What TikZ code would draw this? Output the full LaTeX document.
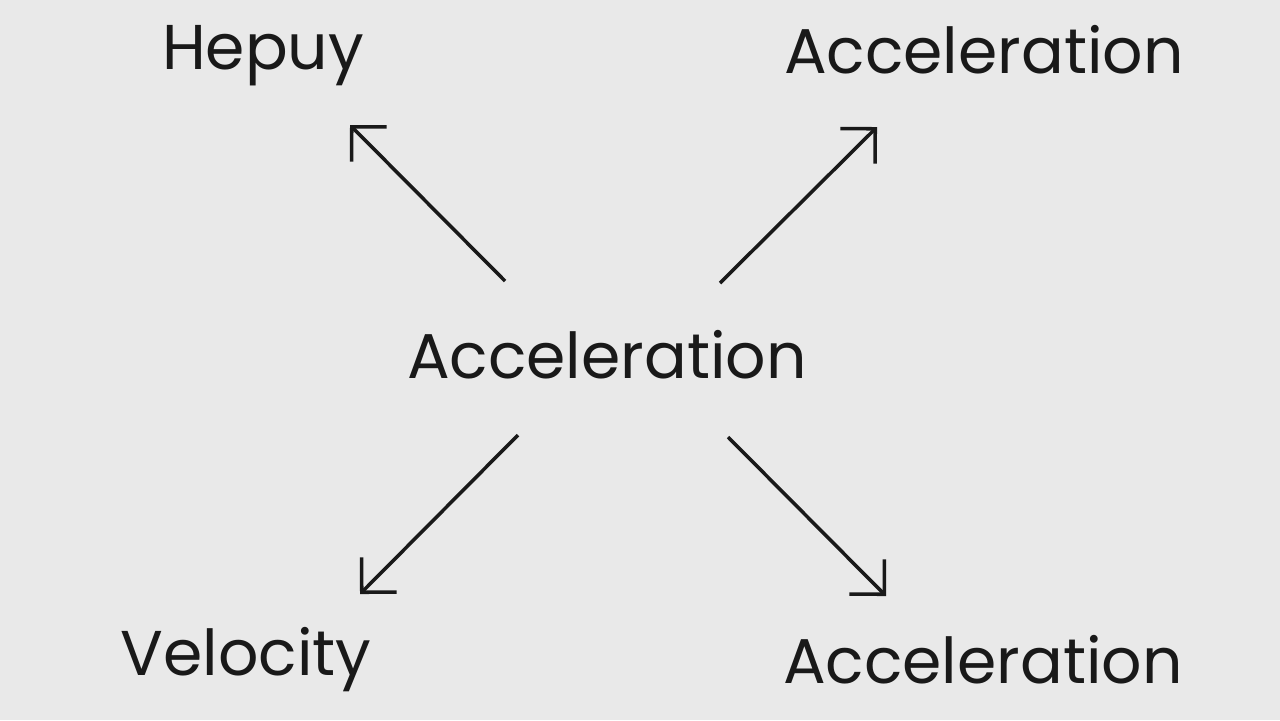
\documentclass[tikz,border=0pt]{standalone}
\usepackage{fontspec}
\setmainfont{Poppins}
\usetikzlibrary{arrows.meta}
\definecolor{bg}{HTML}{E9E9E9}
\begin{document}
\begin{tikzpicture}[x=0.01cm,y=-0.01cm,
  lbl/.style={font=\fontsize{18}{21}\selectfont, text=black!90, inner sep=0pt},
  arr/.style={draw=black!90, line width=1pt, -{Straight Barb[length=7pt,width=14pt,line width=1pt]}}]
\fill[bg] (0,0) rectangle (1280,720);
\useasboundingbox (0,0) rectangle (1280,720);
\node[lbl] (hep) at (263,56) {Hepuy};
\node[lbl] (tr) at (984,50) {Acceleration};
\node[lbl] (c) at (607,355) {Acceleration};
\node[lbl] (vel) at (246,660) {Velocity};
\node[lbl] (br) at (983,660) {Acceleration};
\coordinate (s1) at (505,281); \coordinate (e1) at (350,125);
\coordinate (s2) at (720,283); \coordinate (e2) at (877,127);
\coordinate (s3) at (518,435); \coordinate (e3) at (360,594);
\coordinate (s4) at (728,437); \coordinate (e4) at (886,596);
\draw[arr] (s1) -- (e1);
\draw[arr] (s2) -- (e2);
\draw[arr] (s3) -- (e3);
\draw[arr] (s4) -- (e4);
\end{tikzpicture}
\end{document}
